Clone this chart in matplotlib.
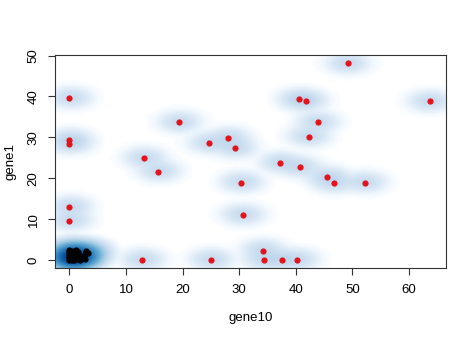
import numpy as np
import matplotlib
matplotlib.use("Agg")
import matplotlib.pyplot as plt
from matplotlib.colors import LinearSegmentedColormap

plt.rcParams['font.family'] = ['Liberation Sans', 'DejaVu Sans']

# outlying points (drawn in red)
red_x = [0.0, 0.0, 0.0, 0.0, 0.0, 13.2, 15.7, 19.35, 24.7, 28.1, 29.3, 12.8, 25.0,
         49.2, 40.6, 41.8, 63.8, 43.9, 42.3, 37.3, 40.7, 45.5, 46.8, 52.3, 30.4,
         30.6, 34.2, 34.45, 37.5, 40.3]
red_y = [39.6, 29.4, 28.5, 13.0, 9.7, 24.9, 21.7, 33.7, 28.6, 29.8, 27.4, 0.0, 0.0,
         48.1, 39.3, 38.9, 38.8, 33.7, 30.2, 23.8, 22.7, 20.3, 18.9, 18.95, 19.0,
         11.0, 2.4, 0.0, 0.0, 0.0]

# dense group near the origin (drawn in black), with repeat counts
blk_x = [0.0, 0.0, 0.0, 0.0, 0.0, 0.0, 0.4, 0.4, 0.8, 0.8, 1.0, 1.2, 1.2, 1.5, 1.5,
         1.9, 1.9, 2.3, 2.3, 2.7, 2.7, 2.9, 3.0, 3.2, 0.6]
blk_y = [0.0, 0.5, 1.0, 1.5, 2.0, 2.6, 0.2, 2.3, 0.0, 1.0, 0.4, 1.6, 2.5, 0.3, 2.0,
         0.0, 1.1, 0.5, 0.9, 0.3, 1.5, 2.4, 2.1, 1.8, 0.6]
blk_n = [25, 8, 8, 6, 5, 3, 6, 3, 9, 5, 5, 3, 2, 5, 2,
         5, 3, 3, 2, 2, 2, 2, 2, 2, 5]

xlim = (-2.56, 66.56)
ylim = (-1.93, 50.1)
bw_x, bw_y = 1.75, 1.2

# smoothed density (like R's smoothScatter), kernel cut off at 3.5 bandwidths
all_x = np.array(red_x + blk_x)
all_y = np.array(red_y + blk_y)
all_w = np.array([1] * len(red_x) + blk_n, dtype=float)
gx = np.linspace(xlim[0], xlim[1], 128)
gy = np.linspace(ylim[0], ylim[1], 128)
GX, GY = np.meshgrid(gx, gy)
dens = np.zeros_like(GX)
for px, py, w in zip(all_x, all_y, all_w):
    r2 = ((GX - px) / bw_x) ** 2 + ((GY - py) / bw_y) ** 2
    k = np.exp(-0.5 * r2)
    k[r2 > 3.5 ** 2] = 0
    dens += w * k
dens = (dens / dens.max()) ** 0.25

blues9 = ["#F7FBFF", "#DEEBF7", "#C6DBEF", "#9ECAE1", "#6BAED6",
          "#4292C6", "#2171B5", "#08519C", "#08306B"]
cmap = LinearSegmentedColormap.from_list("ramp", ["white"] + blues9, N=256)

fig = plt.figure(figsize=(4.74, 3.38), dpi=100)
ax = fig.add_axes([0.116, 0.206, 0.825, 0.631])
ax.imshow(dens, extent=(xlim[0], xlim[1], ylim[0], ylim[1]), origin='lower',
          cmap=cmap, aspect='auto', interpolation='bilinear', vmin=0, vmax=1)
ax.scatter(blk_x, blk_y, s=20, color='black', zorder=3, linewidths=0)
ax.scatter(red_x, red_y, s=20, color='#e3141c', zorder=4, linewidths=0)

ax.set_xlim(xlim)
ax.set_ylim(ylim)
ax.set_xticks([0, 10, 20, 30, 40, 50, 60])
ax.set_yticks([0, 10, 20, 30, 40, 50])
ax.tick_params(direction='out', length=5, width=0.8, color='#333333',
               labelsize=9.5, pad=6)
for lab in ax.get_yticklabels():
    lab.set_rotation(90)
    lab.set_va('center')
for s in ax.spines.values():
    s.set_color('#333333')
    s.set_linewidth(0.8)
ax.set_xlabel('gene10', fontsize=9.5, labelpad=12)
ax.set_ylabel('gene1', fontsize=9.5, labelpad=8)

fig.savefig('out.png', dpi=100)
